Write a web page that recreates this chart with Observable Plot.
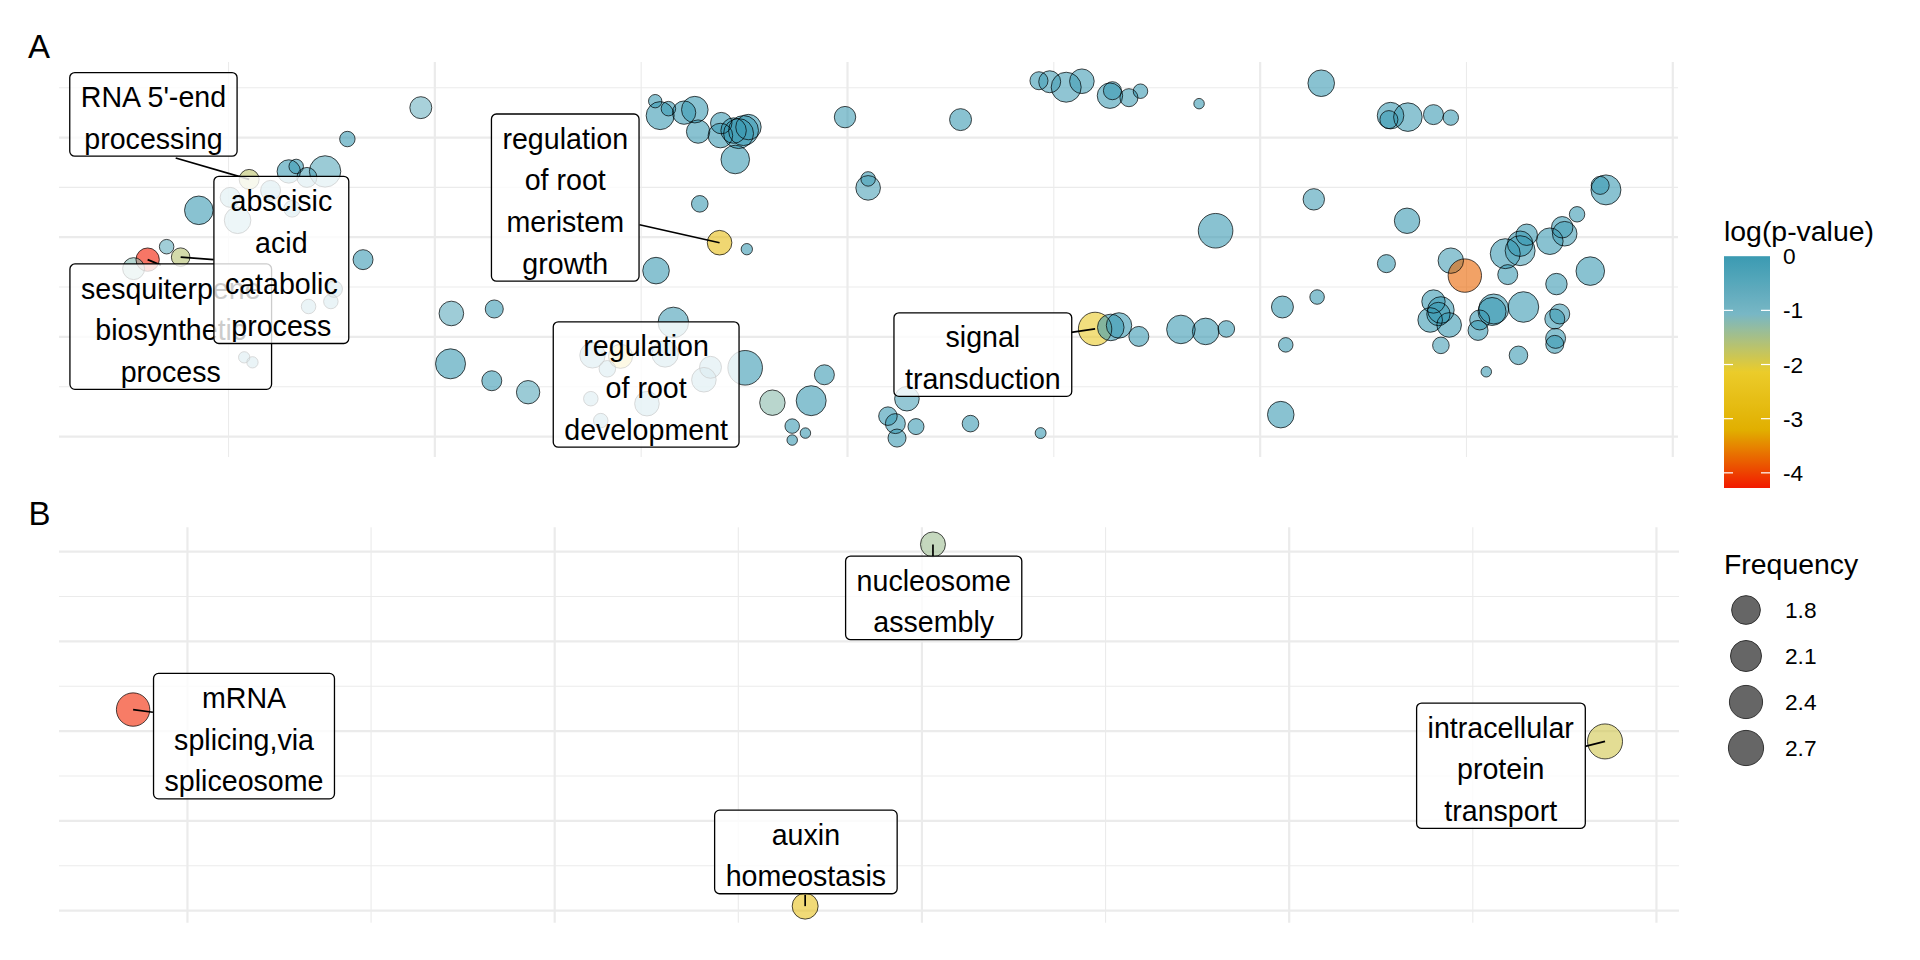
<!DOCTYPE html>
<html><head><meta charset="utf-8">
<script src="https://cdn.jsdelivr.net/npm/d3@7"></script>
<script src="https://cdn.jsdelivr.net/npm/@observablehq/plot@0.6"></script>
<style>
html,body{margin:0;padding:0;background:#fff;}
#root{position:relative;width:1920px;height:960px;overflow:hidden;font-family:"Liberation Sans",Arial,sans-serif;}
#root > svg{position:absolute;}
</style></head><body><div id="root"></div>
<script>
// ---------- colour / size keys ----------
const colorDomain = [-4.28, -3.21, -2.14, -1.07, 0];
const colorRange = ["#F21A00", "#E1AF00", "#EBCC2A", "#78B7C5", "#3B9AB2"];
const colorTicks = [0, -1, -2, -3, -4];
const sizeBreaks = [1.8, 2.1, 2.4, 2.7];
const sizeDomain = [0, 2.7];

// ---------- grid breaks ----------
const aXMajor = [-5, 0, 5, 10], aXMinor = [-7.5, -2.5, 2.5, 7.5];
const aYMajor = [2, 0, -2, -4], aYMinor = [3, 1, -1, -3];
const bXMajor = [-10, -5, 0, 5, 10], bXMinor = [-7.5, -2.5, 2.5, 7.5];
const bYMajor = [4, 2, 0, -2, -4], bYMinor = [3, 1, -1, -3];

// ---------- panel A points: [x, y, log(p-value), frequency] ----------
const pointsA = [
 [-5.17, 2.60, -0.9, 1.05], [-6.06, 1.97, 0, 0.52], [-6.77, 1.32, 0, 1.19], [-6.68, 1.42, 0, 0.46],
 [-6.33, 1.32, -0.5, 2.15], [-6.55, 1.20, -0.3, 0.87], [-7.25, 1.16, -1.7, 0.87], [-7.86, 0.54, 0, 1.78],
 [-8.25, -0.19, -0.7, 0.46], [-8.48, -0.45, -4.28, 1.19], [-8.08, -0.40, -1.65, 0.75], [-8.65, -0.63, -1.2, 1.05],
 [-5.87, -0.45, 0, 0.87], [-7.39, 0.34, -0.8, 1.54], [-7.48, 0.80, -0.5, 0.87], [-6.73, 0.57, -0.3, 0.60],
 [-6.99, 0.94, -0.3, 0.87], [-6.26, -1.29, -0.3, 0.46], [-6.53, -1.39, -0.3, 0.46], [-6.22, -1.04, -0.3, 0.60],
 [-7.31, -2.41, -0.3, 0.28], [-7.21, -2.51, -0.3, 0.28], [-4.80, -1.53, -0.6, 1.32], [-4.28, -1.44, 0, 0.71],
 [-4.81, -2.54, 0, 1.96], [-4.31, -2.88, 0, 0.87], [-3.87, -3.11, -0.5, 1.19], [-2.33, 2.73, 0, 0.39],
 [-2.27, 2.44, 0, 1.71], [-2.17, 2.58, 0, 0.46], [-1.98, 2.50, 0, 1.19], [-1.85, 2.56, 0, 1.54],
 [-1.81, 2.12, 0, 1.19], [-1.53, 2.29, 0, 1.00], [-1.54, 2.04, 0, 1.32], [-1.38, 2.14, 0, 1.41],
 [-1.26, 2.14, 0, 1.96], [-1.20, 2.21, 0, 1.41], [-1.32, 2.08, 0, 1.96], [-1.36, 1.56, 0, 1.78],
 [-0.03, 2.41, -0.1, 1.00], [1.37, 2.36, 0, 1.05], [0.25, 1.17, 0, 0.46], [0.25, 0.99, -0.3, 1.32],
 [-1.79, 0.67, 0, 0.60], [-1.55, -0.11, -2.7, 1.32], [-1.22, -0.24, 0, 0.28], [-2.32, -0.67, 0, 1.54],
 [-2.11, -1.71, -0.2, 2.04], [-1.24, -2.62, 0, 2.61], [-2.75, -2.39, -2.2, 1.26], [-3.09, -2.37, -0.3, 1.41],
 [-2.91, -2.64, -0.3, 0.60], [-2.21, -2.34, -0.3, 1.54], [-1.66, -2.61, -0.3, 1.05], [-1.74, -2.86, -0.3, 1.32],
 [-3.11, -3.24, -0.3, 0.46], [-2.43, -3.34, -0.3, 1.32], [-2.99, -3.68, -0.3, 0.46], [-0.91, -3.32, -1.24, 1.41],
 [-0.44, -3.28, 0, 1.96], [-0.28, -2.76, 0, 0.87], [-0.67, -3.79, 0, 0.46], [-0.51, -3.93, 0, 0.24],
 [-0.67, -4.07, 0, 0.24], [0.49, -3.59, 0, 0.75], [0.58, -3.74, 0, 0.87], [0.60, -4.03, 0, 0.71],
 [0.72, -3.24, -0.3, 1.32], [0.83, -3.80, 0, 0.56], [1.49, -3.74, 0, 0.60], [2.34, -3.93, 0, 0.26],
 [2.32, 3.14, 0, 0.71], [2.45, 3.12, -0.2, 1.05], [2.65, 3.01, -0.2, 1.96], [2.84, 3.13, -0.1, 1.32],
 [3.18, 2.84, -0.1, 1.41], [3.21, 2.94, 0, 0.71], [3.41, 2.80, -0.1, 0.71], [3.55, 2.93, 0, 0.46],
 [4.26, 2.68, 0, 0.24], [5.74, 3.09, 0, 1.54], [6.58, 2.44, 0, 1.54], [6.56, 2.36, 0, 0.71],
 [6.79, 2.41, -0.1, 1.78], [7.10, 2.46, 0, 0.87], [7.31, 2.40, 0, 0.52], [4.46, 0.13, 0, 2.61],
 [5.65, 0.76, -0.2, 1.00], [6.78, 0.33, 0, 1.41], [6.53, -0.53, 0, 0.71], [7.31, -0.47, -0.2, 1.41],
 [7.48, -0.77, -3.75, 2.43], [8.00, -0.75, 0, 0.87], [7.97, -0.33, 0, 1.96], [8.15, -0.27, -0.3, 1.96],
 [8.23, 0.05, 0, 1.00], [8.15, -0.13, 0, 1.41], [8.51, -0.08, 0, 1.54], [8.66, 0.20, 0, 1.00],
 [8.69, 0.07, -0.2, 1.32], [8.84, 0.46, 0, 0.52], [9.19, 0.95, 0, 1.96], [9.12, 1.04, 0, 0.71],
 [9.00, -0.68, 0, 1.78], [8.59, -0.94, 0, 1.00], [8.63, -1.54, -0.2, 0.87], [8.57, -1.64, 0, 0.87],
 [8.58, -2.03, 0, 0.87], [8.57, -2.15, 0, 0.71], [8.13, -2.37, 0, 0.75], [7.74, -2.70, 0, 0.24],
 [7.19, -2.17, -0.2, 0.60], [8.19, -1.40, 0, 2.04], [7.83, -1.44, 0, 1.96], [7.81, -1.49, 0, 1.71],
 [7.66, -1.66, 0, 0.87], [7.64, -1.87, 0, 0.87], [7.10, -1.29, 0, 1.19], [7.19, -1.46, 0, 1.54],
 [7.06, -1.66, 0, 1.32], [7.29, -1.76, 0, 1.32], [7.16, -1.54, 0, 1.19], [5.27, -1.40, 0, 1.05],
 [5.69, -1.20, 0, 0.46], [5.31, -2.16, 0, 0.46], [5.25, -3.56, 0, 1.54], [3.00, -1.84, -2.2, 2.43],
 [3.19, -1.81, 0, 1.54], [3.29, -1.77, 0, 1.41], [3.53, -1.99, 0, 0.87], [4.04, -1.85, 0, 1.78],
 [4.34, -1.89, 0, 1.54], [4.59, -1.84, 0, 0.60]
];

// labels of panel A: point = index into pointsA, (lx,ly) label centre, (sx,sy) connector start
const labelsA = [
 {text: "RNA 5'-end\nprocessing", point: 6, lx: -8.41, ly: 2.44, sx: -8.14, sy: 1.59},
 {text: "sesquiterpene\nbiosynthetic\nprocess", point: 9, lx: -8.20, ly: -1.82, sx: -8.32, sy: -0.56},
 {text: "abscisic\nacid\ncatabolic\nprocess", point: 10, lx: -6.86, ly: -0.48, sx: -7.68, sy: -0.45},
 {text: "regulation\nof root\nmeristem\ngrowth", point: 45, lx: -3.42, ly: 0.77, sx: -2.52, sy: 0.25},
 {text: "regulation\nof root\ndevelopment", point: 50, lx: -2.44, ly: -2.98, sx: null, sy: null},
 {text: "signal\ntransduction", point: 127, lx: 1.64, ly: -2.38, sx: 2.71, sy: -1.91}
];

// ---------- panel B ----------
const pointsB = [
 [0.15, 4.16, -1.42, 1.36],
 [-10.74, 0.48, -4.2, 2.43],
 [-1.59, -3.90, -2.5, 1.47],
 [9.30, -0.23, -1.9, 2.67]
];
const labelsB = [
 {text: "nucleosome\nassembly", point: 0, lx: 0.16, ly: 2.94, sx: 0.15, sy: 3.88},
 {text: "mRNA\nsplicing,via\nspliceosome", point: 1, lx: -9.23, ly: -0.14, sx: -10.47, sy: 0.42},
 {text: "auxin\nhomeostasis", point: 2, lx: -1.58, ly: -2.72, sx: -1.59, sy: -3.65},
 {text: "intracellular\nprotein\ntransport", point: 3, lx: 7.88, ly: -0.80, sx: 9.03, sy: -0.34}
];

const FONT = "Liberation Sans, Arial, sans-serif";
const colorOpts = {type: "linear", domain: colorDomain, range: colorRange, interpolate: "rgb"};
const rOpts = {type: "sqrt", domain: sizeDomain, range: [0, 17.6]};
const root = document.getElementById("root");

function panel(o) {
  const data = o.points.map(([x, y, logp, freq]) => ({x, y, logp, freq}));
  const lab = o.labels.map(l => ({...l, px: o.points[l.point][0], py: o.points[l.point][1]}));
  const grid = "#EBEBEB";
  const svg = Plot.plot({
    width: o.width, height: o.height,
    marginLeft: o.ml, marginRight: o.mr, marginTop: o.mt, marginBottom: o.mb,
    x: {domain: o.xDomain, axis: null},
    y: {domain: o.yDomain, axis: null},
    color: colorOpts,
    r: rOpts,
    style: {background: "transparent", overflow: "visible", fontFamily: FONT},
    marks: [
      Plot.ruleX(o.xMin, {stroke: grid, strokeWidth: 1.1}),
      Plot.ruleY(o.yMin, {stroke: grid, strokeWidth: 1.1}),
      Plot.ruleX(o.xMaj, {stroke: grid, strokeWidth: 2.2}),
      Plot.ruleY(o.yMaj, {stroke: grid, strokeWidth: 2.2}),
      Plot.dot(data, {x: "x", y: "y", r: "freq", fill: "logp", fillOpacity: 0.6, sort: null}),
      Plot.dot(data, {x: "x", y: "y", r: "freq", fill: "none", stroke: "black", strokeOpacity: 0.7, strokeWidth: 1, sort: null}),
      Plot.link(lab.filter(d => d.sx != null), {x1: "sx", y1: "sy", x2: "px", y2: "py", stroke: "black", strokeWidth: 1.7}),
      Plot.text(lab, {x: "lx", y: "ly", text: "text", fontSize: 28.6, lineHeight: 1.458, fill: "black", dy: -1, fontFamily: FONT})
    ]
  });
  svg.style.left = o.left + "px";
  svg.style.top = o.top + "px";
  root.appendChild(svg);
  // label boxes (ggrepel-like) behind each text
  const ns = "http://www.w3.org/2000/svg";
  const g = svg.querySelector('g[aria-label="text"]');
  if (g) {
    for (const t of Array.from(g.querySelectorAll("text"))) {
      const bb = t.getBBox();
      const n = t.querySelectorAll("tspan").length || 1;
      const h = 41.8 * n;
      const cy = bb.y + bb.height / 2 - 3.6;
      const rect = document.createElementNS(ns, "rect");
      rect.setAttribute("x", bb.x - 11);
      rect.setAttribute("y", cy - h / 2);
      rect.setAttribute("width", bb.width + 22);
      rect.setAttribute("height", h);
      rect.setAttribute("rx", 5);
      rect.setAttribute("fill", "white");
      rect.setAttribute("fill-opacity", 0.8);
      rect.setAttribute("stroke", "black");
      rect.setAttribute("stroke-width", 1.3);
      const tr = t.getAttribute("transform");
      if (tr) rect.setAttribute("transform", tr);
      g.insertBefore(rect, t);
    }
  }
  return svg;
}

panel({points: pointsA, labels: labelsA, width: 1700, height: 470, left: 0, top: 0,
  ml: 59, mr: 22, mt: 62, mb: 13,
  xDomain: [-9.548, 10.069], yDomain: [-4.42, 3.506],
  xMaj: aXMajor, xMin: aXMinor, yMaj: aYMajor, yMin: aYMinor});

panel({points: pointsB, labels: labelsB, width: 1700, height: 460, left: 0, top: 480,
  ml: 59, mr: 21, mt: 47.3, mb: 17.3,
  xDomain: [-11.742, 10.314], yDomain: [-4.28, 4.53],
  xMaj: bXMajor, xMin: bXMinor, yMaj: bYMajor, yMin: bYMinor});

// ---------- overlay: panel tags and legends ----------
let colorFn, rFn;
try { colorFn = Plot.scale({color: colorOpts}).apply; } catch (e) {
  colorFn = d3.scaleLinear().domain(colorDomain).range(colorRange).interpolate(d3.interpolateRgb);
}
try { rFn = Plot.scale({r: rOpts}).apply; } catch (e) {
  rFn = d3.scaleSqrt().domain(sizeDomain).range([0, 17.6]);
}

const ov = d3.create("svg").attr("width", 1920).attr("height", 960)
  .style("left", "0px").style("top", "0px").attr("font-family", FONT);

ov.append("text").attr("x", 28).attr("y", 58.3).attr("font-size", 33).text("A");
ov.append("text").attr("x", 28.5).attr("y", 525).attr("font-size", 33).text("B");

// colour bar
const barX = 1724, barW = 46, barTop = 256.2, barBot = 488;
const barY = d3.scaleLinear().domain([0, colorDomain[0]]).range([barTop, barBot]);
const grad = ov.append("defs").append("linearGradient").attr("id", "cbar")
  .attr("x1", 0).attr("y1", 0).attr("x2", 0).attr("y2", 1);
for (let i = 0; i <= 60; i++) {
  const v = colorDomain[0] * i / 60;
  grad.append("stop").attr("offset", (i / 60)).attr("stop-color", colorFn(v));
}
ov.append("text").attr("x", barX).attr("y", 240.5).attr("font-size", 28.4).text("log(p-value)");
ov.append("rect").attr("x", barX).attr("y", barTop).attr("width", barW).attr("height", barBot - barTop)
  .attr("fill", "url(#cbar)");
for (const v of colorTicks) {
  const y = barY(v);
  if (v !== 0) {
    ov.append("line").attr("x1", barX).attr("x2", barX + 9).attr("y1", y).attr("y2", y)
      .attr("stroke", "white").attr("stroke-width", 1.2);
    ov.append("line").attr("x1", barX + barW - 9).attr("x2", barX + barW).attr("y1", y).attr("y2", y)
      .attr("stroke", "white").attr("stroke-width", 1.2);
  }
  ov.append("text").attr("x", 1783).attr("y", y + 8.1).attr("font-size", 22.7).text(String(v));
}

// size legend
ov.append("text").attr("x", barX).attr("y", 573.5).attr("font-size", 28.4).text("Frequency");
sizeBreaks.forEach((v, i) => {
  const cy = 610 + i * 46;
  ov.append("circle").attr("cx", 1746).attr("cy", cy).attr("r", rFn(v))
    .attr("fill", "#666666").attr("stroke", "#333").attr("stroke-width", 1);
  ov.append("text").attr("x", 1785).attr("y", cy + 8.1).attr("font-size", 22.7).text(v.toFixed(1));
});

root.appendChild(ov.node());
</script></body></html>
